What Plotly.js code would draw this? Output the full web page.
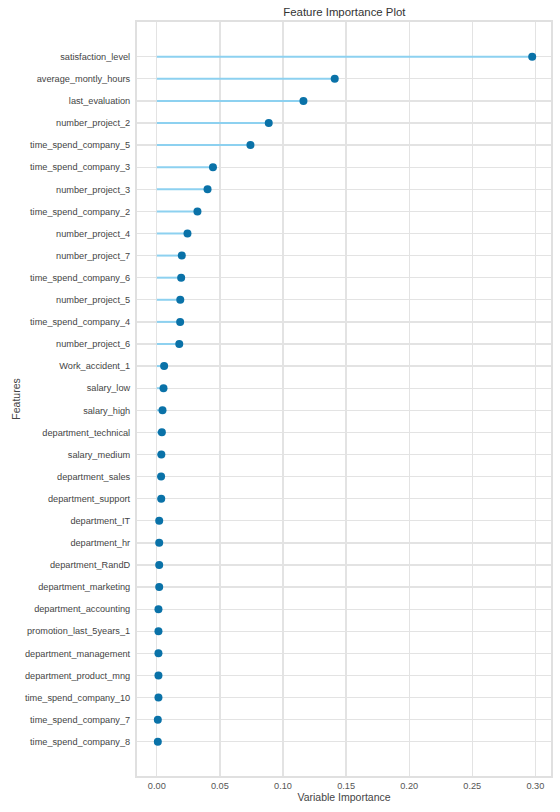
<!DOCTYPE html>
<html>
<head>
<meta charset="utf-8">
<script src="https://cdn.plot.ly/plotly-3.0.1.min.js"></script>
<style>html,body{margin:0;padding:0;background:#fff;}#chart{width:560px;height:812px;}</style>
</head>
<body>
<div id="chart"></div>
<script>
const features = [
  "satisfaction_level","average_montly_hours","last_evaluation","number_project_2",
  "time_spend_company_5","time_spend_company_3","number_project_3","time_spend_company_2",
  "number_project_4","number_project_7","time_spend_company_6","number_project_5",
  "time_spend_company_4","number_project_6","Work_accident_1","salary_low",
  "salary_high","department_technical","salary_medium","department_sales",
  "department_support","department_IT","department_hr","department_RandD",
  "department_marketing","department_accounting","promotion_last_5years_1","department_management",
  "department_product_mng","time_spend_company_10","time_spend_company_7","time_spend_company_8"
];
const importance = [
  0.2975, 0.1410, 0.1162, 0.0887,
  0.0742, 0.0445, 0.0402, 0.0322,
  0.0243, 0.0198, 0.0193, 0.0186,
  0.0185, 0.0178, 0.0058, 0.0053,
  0.0045, 0.0040, 0.0036, 0.0034,
  0.0035, 0.0019, 0.0019, 0.0019,
  0.0019, 0.0013, 0.0013, 0.0013,
  0.0013, 0.0013, 0.0008, 0.0008
];
const xTicks = [0, 0.05, 0.10, 0.15, 0.20, 0.25, 0.30];
const xTickText = ["0.00","0.05","0.10","0.15","0.20","0.25","0.30"];

const stemX = [], stemY = [];
features.forEach((f, i) => { stemX.push(0, importance[i], null); stemY.push(f, f, null); });

const stems = {
  type: 'scatter', mode: 'lines', x: stemX, y: stemY,
  line: {color: '#8dd1f0', width: 2}, hoverinfo: 'skip', showlegend: false
};
const dots = {
  type: 'scatter', mode: 'markers', x: importance, y: features,
  marker: {color: '#0a72a8', size: 8}, showlegend: false
};

const fnt = {family: 'Liberation Sans, Arial, sans-serif', size: 9.2, color: '#444'};
const layout = {
  width: 560, height: 812,
  margin: {l: 137, r: 9, t: 22, b: 36, pad: 0},
  paper_bgcolor: '#fff', plot_bgcolor: '#fff',
  font: fnt,
  title: {text: 'Feature Importance Plot', x: 0.615, xanchor: 'center', y: 0.985, yanchor: 'middle',
          font: {family: 'Liberation Sans, Arial, sans-serif', size: 11.4, color: '#333'}},
  xaxis: {
    range: [-0.0157, 0.3124], tickvals: xTicks, ticktext: xTickText,
    showgrid: true, gridcolor: '#e3e3e3', gridwidth: 1.3, zeroline: false,
    showline: true, mirror: true, linecolor: '#e0e0e0', linewidth: 2,
    ticks: '', tickfont: {size: 9.2, color: '#555'},
    title: {text: 'Variable Importance', standoff: 4, font: {size: 10.5, color: '#444'}}
  },
  yaxis: {
    type: 'category', categoryorder: 'array', categoryarray: features,
    range: [32.55, -1.57],
    showgrid: true, gridcolor: '#e3e3e3', gridwidth: 1.3, zeroline: false,
    showline: true, mirror: true, linecolor: '#e0e0e0', linewidth: 2,
    ticks: '', ticklabelstandoff: 3, tickfont: {size: 9.2, color: '#444'},
    title: {text: 'Features', standoff: 2, font: {size: 10.5, color: '#444'}}
  }
};
Plotly.newPlot('chart', [stems, dots], layout, {displayModeBar: false, staticPlot: true});
</script>
</body>
</html>
